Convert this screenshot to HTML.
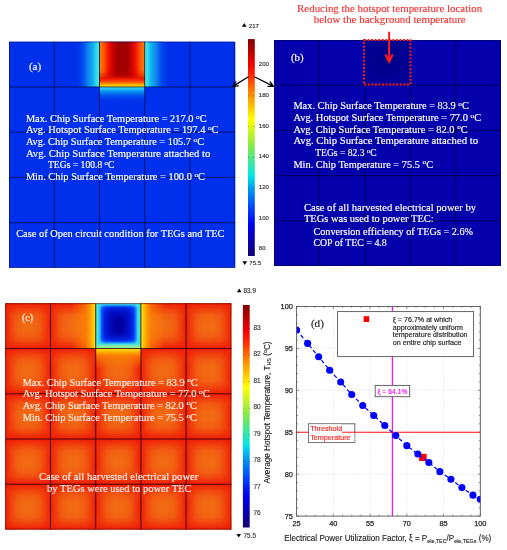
<!DOCTYPE html><html><head><meta charset="utf-8"><style>html,body{margin:0;padding:0;background:#fff;width:507px;height:550px;overflow:hidden}svg{display:block}</style></head><body>
<svg width="507" height="550" viewBox="0 0 507 550">
<defs>
<linearGradient id="jet" x1="0" y1="0" x2="0" y2="1"><stop offset="0" stop-color="#7f0000"/><stop offset="0.11" stop-color="#f00000"/><stop offset="0.16" stop-color="#ff2000"/><stop offset="0.235" stop-color="#ff7a00"/><stop offset="0.37" stop-color="#ffff00"/><stop offset="0.5" stop-color="#7fe850"/><stop offset="0.63" stop-color="#00e6e6"/><stop offset="0.7" stop-color="#0090f0"/><stop offset="0.78" stop-color="#0040ff"/><stop offset="0.86" stop-color="#0000f0"/><stop offset="1.0" stop-color="#140070"/></linearGradient>
<linearGradient id="hotA" x1="0" y1="0" x2="1" y2="0"><stop offset="0" stop-color="#ff8000"/><stop offset="0.08" stop-color="#ff6000"/><stop offset="0.14" stop-color="#ff3800"/><stop offset="0.2" stop-color="#f01400"/><stop offset="0.3" stop-color="#c80000"/><stop offset="0.4" stop-color="#a00000"/><stop offset="0.6" stop-color="#a00000"/><stop offset="0.7" stop-color="#c80000"/><stop offset="0.8" stop-color="#f01400"/><stop offset="0.86" stop-color="#ff3800"/><stop offset="0.92" stop-color="#ff6000"/><stop offset="1" stop-color="#ff8000"/></linearGradient>
<linearGradient id="hotAbot" x1="0" y1="0" x2="0" y2="1"><stop offset="0" stop-color="#c00000" stop-opacity="0"/><stop offset="0.35" stop-color="#c80000" stop-opacity="0.35"/><stop offset="0.55" stop-color="#f01800"/><stop offset="0.7" stop-color="#ff4800"/><stop offset="0.82" stop-color="#ff9000"/><stop offset="0.93" stop-color="#ffd000"/><stop offset="1" stop-color="#f0f000"/></linearGradient>
<linearGradient id="sideL" x1="0" y1="0" x2="1" y2="0"><stop offset="0" stop-color="#0030eb" stop-opacity="0"/><stop offset="0.3" stop-color="#0050f0" stop-opacity="0.55"/><stop offset="0.55" stop-color="#1080f0"/><stop offset="0.75" stop-color="#10b0f0"/><stop offset="0.9" stop-color="#30e0f0"/><stop offset="1" stop-color="#40f0e8"/></linearGradient>
<linearGradient id="sideR" x1="1" y1="0" x2="0" y2="0"><stop offset="0" stop-color="#0030eb" stop-opacity="0"/><stop offset="0.3" stop-color="#0050f0" stop-opacity="0.55"/><stop offset="0.55" stop-color="#1080f0"/><stop offset="0.75" stop-color="#10b0f0"/><stop offset="0.9" stop-color="#30e0f0"/><stop offset="1" stop-color="#40f0e8"/></linearGradient>
<linearGradient id="belowA" x1="0" y1="1" x2="0" y2="0"><stop offset="0" stop-color="#0030eb" stop-opacity="0"/><stop offset="0.45" stop-color="#0060f0" stop-opacity="0.6"/><stop offset="0.8" stop-color="#10a8f0"/><stop offset="1" stop-color="#40e0f0"/></linearGradient>
<linearGradient id="cH" x1="0" y1="0" x2="1" y2="0"><stop offset="0" stop-color="#ee1806" stop-opacity="0.95"/><stop offset="0.12" stop-color="#f02408" stop-opacity="0.62"/><stop offset="0.27" stop-color="#f0380c" stop-opacity="0.2"/><stop offset="0.42" stop-color="#f0380c" stop-opacity="0"/><stop offset="0.58" stop-color="#f0380c" stop-opacity="0"/><stop offset="0.73" stop-color="#f0380c" stop-opacity="0.2"/><stop offset="0.88" stop-color="#f02408" stop-opacity="0.62"/><stop offset="1" stop-color="#ee1806" stop-opacity="0.95"/></linearGradient>
<linearGradient id="cV" x1="0" y1="0" x2="0" y2="1"><stop offset="0" stop-color="#ee1806" stop-opacity="0.95"/><stop offset="0.12" stop-color="#f02408" stop-opacity="0.62"/><stop offset="0.27" stop-color="#f0380c" stop-opacity="0.2"/><stop offset="0.42" stop-color="#f0380c" stop-opacity="0"/><stop offset="0.58" stop-color="#f0380c" stop-opacity="0"/><stop offset="0.73" stop-color="#f0380c" stop-opacity="0.2"/><stop offset="0.88" stop-color="#f02408" stop-opacity="0.62"/><stop offset="1" stop-color="#ee1806" stop-opacity="0.95"/></linearGradient>
<radialGradient id="coldCore" cx="0.5" cy="0.5" r="0.6"><stop offset="0" stop-color="#0004b4"/><stop offset="0.6" stop-color="#000cc4"/><stop offset="1" stop-color="#0018d4"/></radialGradient>
<filter id="bl1" x="-20%" y="-20%" width="140%" height="140%"><feGaussianBlur stdDeviation="1.3"/></filter>
<filter id="bl2" x="-20%" y="-20%" width="140%" height="140%"><feGaussianBlur stdDeviation="2"/></filter>
<linearGradient id="ycL" x1="0" y1="0" x2="1" y2="0">
<stop offset="0" stop-color="#ff9000" stop-opacity="0"/><stop offset="0.6" stop-color="#ffa000" stop-opacity="0.55"/><stop offset="1" stop-color="#ffee00"/></linearGradient>
<linearGradient id="ycR" x1="1" y1="0" x2="0" y2="0">
<stop offset="0" stop-color="#ff9000" stop-opacity="0"/><stop offset="0.6" stop-color="#ffa000" stop-opacity="0.55"/><stop offset="1" stop-color="#ffee00"/></linearGradient>
<linearGradient id="ycB" x1="0" y1="1" x2="0" y2="0">
<stop offset="0" stop-color="#ff9000" stop-opacity="0"/><stop offset="0.6" stop-color="#ffa000" stop-opacity="0.55"/><stop offset="1" stop-color="#ffee00"/></linearGradient>
<radialGradient id="hotB" cx="0.5" cy="0.4" r="0.7">
<stop offset="0" stop-color="#000088"/><stop offset="1" stop-color="#00009c"/></radialGradient>
<clipPath id="plotclip"><rect x="296.5" y="306.5" width="184" height="209.6"/></clipPath>
</defs>
<text x="297.1" y="11.8" font-size="10" fill="#fa2e2e" font-family="'Liberation Serif', 'DejaVu Serif', serif" stroke="#fa2e2e" stroke-width="0.12" textLength="185" lengthAdjust="spacingAndGlyphs" >Reducing the hotspot temperature location</text>
<text x="313.7" y="22.9" font-size="10" fill="#fa2e2e" font-family="'Liberation Serif', 'DejaVu Serif', serif" stroke="#fa2e2e" stroke-width="0.12" textLength="152" lengthAdjust="spacingAndGlyphs" >below the background temperature</text>
<rect x="9" y="41.7" width="226.2" height="226.1" fill="#0030eb"/>
<rect x="73.24" y="41.7" width="26.24" height="45.239999999999995" fill="url(#sideL)"/>
<rect x="144.72" y="41.7" width="26.24" height="45.239999999999995" fill="url(#sideR)"/>
<rect x="99.48" y="86.94" width="45.24" height="17.19" fill="url(#belowA)"/>
<rect x="99.48" y="41.7" width="45.24" height="45.239999999999995" fill="url(#hotA)"/>
<rect x="99.48" y="68.84" width="45.24" height="18.10" fill="url(#hotAbot)"/>
<path d="M54.24 41.7V267.8M9 86.94H235.2M99.48 41.7V267.8M9 132.18H235.2M144.72 41.7V267.8M9 177.42H235.2M189.96 41.7V267.8M9 222.66H235.2" stroke="#000030" stroke-opacity="0.75" stroke-width="0.9" fill="none"/>
<rect x="9.4" y="42.1" width="225.39999999999998" height="225.29999999999998" fill="none" stroke="#000040" stroke-opacity="0.5" stroke-width="0.8"/>
<text x="28.9" y="69.5" font-size="11" fill="#fff" font-family="'Liberation Serif', 'DejaVu Serif', serif" stroke="#fff" stroke-width="0.15" textLength="12.3" lengthAdjust="spacingAndGlyphs" >(a)</text>
<text x="25.9" y="121.7" font-size="9.6" fill="#fff" font-family="'Liberation Serif', 'DejaVu Serif', serif" stroke="#fff" stroke-width="0.15" textLength="180.7" lengthAdjust="spacingAndGlyphs" >Max. Chip Surface Temperature = 217.0 <tspan font-size="70%" dy="-3.2">o</tspan><tspan dy="3.2">C</tspan></text>
<text x="25.9" y="133.3" font-size="9.6" fill="#fff" font-family="'Liberation Serif', 'DejaVu Serif', serif" stroke="#fff" stroke-width="0.15" textLength="192.7" lengthAdjust="spacingAndGlyphs" >Avg.  Hotspot Surface Temperature = 197.4 <tspan font-size="70%" dy="-3.2">o</tspan><tspan dy="3.2">C</tspan></text>
<text x="25.9" y="144.9" font-size="9.6" fill="#fff" font-family="'Liberation Serif', 'DejaVu Serif', serif" stroke="#fff" stroke-width="0.15" textLength="178.2" lengthAdjust="spacingAndGlyphs" >Avg.  Chip Surface Temperature = 105.7 <tspan font-size="70%" dy="-3.2">o</tspan><tspan dy="3.2">C</tspan></text>
<text x="25.9" y="156.6" font-size="9.6" fill="#fff" font-family="'Liberation Serif', 'DejaVu Serif', serif" stroke="#fff" stroke-width="0.15" textLength="184.4" lengthAdjust="spacingAndGlyphs" >Avg.  Chip Surface Temperature attached to</text>
<text x="48" y="168.2" font-size="9.6" fill="#fff" font-family="'Liberation Serif', 'DejaVu Serif', serif" stroke="#fff" stroke-width="0.15" >TEGs = 100.8 <tspan font-size="70%" dy="-3.2">o</tspan><tspan dy="3.2">C</tspan></text>
<text x="25.9" y="179.8" font-size="9.6" fill="#fff" font-family="'Liberation Serif', 'DejaVu Serif', serif" stroke="#fff" stroke-width="0.15" textLength="179.1" lengthAdjust="spacingAndGlyphs" >Min. Chip Surface Temperature = 100.0 <tspan font-size="70%" dy="-3.2">o</tspan><tspan dy="3.2">C</tspan></text>
<text x="16.2" y="236.6" font-size="10" fill="#fff" font-family="'Liberation Serif', 'DejaVu Serif', serif" stroke="#fff" stroke-width="0.15" textLength="208.3" lengthAdjust="spacingAndGlyphs" >Case of Open circuit condition for TEGs and TEC</text>
<rect x="248" y="39.1" width="6.8" height="216.9" fill="url(#jet)"/>
<path d="M248 65.16h1.2M254.8 65.16h-1.2" stroke="#000" stroke-opacity="0.5" stroke-width="0.6"/>
<text x="258.8" y="66.25865724381624" font-size="6.1" fill="#333" font-family="'Liberation Sans', Arial, sans-serif" stroke="#333" stroke-width="0.15" >200</text>
<path d="M248 95.82h1.2M254.8 95.82h-1.2" stroke="#000" stroke-opacity="0.5" stroke-width="0.6"/>
<text x="258.8" y="96.91590106007067" font-size="6.1" fill="#333" font-family="'Liberation Sans', Arial, sans-serif" stroke="#333" stroke-width="0.15" >180</text>
<path d="M248 126.47h1.2M254.8 126.47h-1.2" stroke="#000" stroke-opacity="0.5" stroke-width="0.6"/>
<text x="258.8" y="127.57314487632507" font-size="6.1" fill="#333" font-family="'Liberation Sans', Arial, sans-serif" stroke="#333" stroke-width="0.15" >160</text>
<path d="M248 157.13h1.2M254.8 157.13h-1.2" stroke="#000" stroke-opacity="0.5" stroke-width="0.6"/>
<text x="258.8" y="158.2303886925795" font-size="6.1" fill="#333" font-family="'Liberation Sans', Arial, sans-serif" stroke="#333" stroke-width="0.15" >140</text>
<path d="M248 187.79h1.2M254.8 187.79h-1.2" stroke="#000" stroke-opacity="0.5" stroke-width="0.6"/>
<text x="258.8" y="188.88763250883392" font-size="6.1" fill="#333" font-family="'Liberation Sans', Arial, sans-serif" stroke="#333" stroke-width="0.15" >120</text>
<path d="M248 218.44h1.2M254.8 218.44h-1.2" stroke="#000" stroke-opacity="0.5" stroke-width="0.6"/>
<text x="258.8" y="219.54487632508832" font-size="6.1" fill="#333" font-family="'Liberation Sans', Arial, sans-serif" stroke="#333" stroke-width="0.15" >100</text>
<path d="M248 249.10h1.2M254.8 249.10h-1.2" stroke="#000" stroke-opacity="0.5" stroke-width="0.6"/>
<text x="258.8" y="250.20212014134276" font-size="6.1" fill="#333" font-family="'Liberation Sans', Arial, sans-serif" stroke="#333" stroke-width="0.15" >80</text>
<path d="M241.9 26.8L244.25 23.1L246.6 26.8Z" fill="#000"/>
<text x="248.8" y="27.8" font-size="6.1" fill="#333" font-family="'Liberation Sans', Arial, sans-serif" stroke="#333" stroke-width="0.15" >217</text>
<path d="M242.4 261.2L244.75 264.9L247.1 261.2Z" fill="#000"/>
<text x="249.3" y="265.2" font-size="6.1" fill="#333" font-family="'Liberation Sans', Arial, sans-serif" stroke="#333" stroke-width="0.15" >75.5</text>
<g stroke="#000" stroke-width="1.3" fill="none" stroke-linecap="round" stroke-linejoin="round">
<path d="M248 77L233 86.4M233 86.4l5.4 -0.5M233 86.4l2.8 -4.6"/>
<path d="M254.8 77L273.5 86.4M273.5 86.4l-5.6 -0.1M273.5 86.4l-3.3 -4.4"/>
</g>
<rect x="274" y="40" width="227" height="226" fill="#0400ac"/>
<rect x="364.80" y="40" width="45.40" height="45.20" fill="url(#hotB)"/>
<path d="M319.40 40V266M274 85.20H501M364.80 40V266M274 130.40H501M410.20 40V266M274 175.60H501M455.60 40V266M274 220.80H501" stroke="#000030" stroke-opacity="0.7" stroke-width="0.9" fill="none"/>
<rect x="274.4" y="40.4" width="226.2" height="225.2" fill="none" stroke="#000030" stroke-opacity="0.5" stroke-width="0.8"/>
<rect x="364" y="40" width="46.4" height="44.4" fill="none" stroke="#ff1a1a" stroke-width="2" stroke-dasharray="2 1.55"/>
<path d="M389.1 31.8V60" stroke="#ff1a1a" stroke-width="2" fill="none"/>
<path d="M385.4 54.4L389.1 61.6L392.8 54.4" stroke="#ff1a1a" stroke-width="2.1" fill="none" stroke-linejoin="miter"/>
<text x="291" y="60.5" font-size="11" fill="#fff" font-family="'Liberation Serif', 'DejaVu Serif', serif" stroke="#fff" stroke-width="0.15" textLength="12.6" lengthAdjust="spacingAndGlyphs" >(b)</text>
<text x="293.4" y="109.3" font-size="9.6" fill="#fff" font-family="'Liberation Serif', 'DejaVu Serif', serif" stroke="#fff" stroke-width="0.15" textLength="175.5" lengthAdjust="spacingAndGlyphs" >Max. Chip Surface Temperature = 83.9 <tspan font-size="70%" dy="-3.2">o</tspan><tspan dy="3.2">C</tspan></text>
<text x="293.4" y="120.95" font-size="9.6" fill="#fff" font-family="'Liberation Serif', 'DejaVu Serif', serif" stroke="#fff" stroke-width="0.15" textLength="187.8" lengthAdjust="spacingAndGlyphs" >Avg.  Hotspot Surface Temperature = 77.0 <tspan font-size="70%" dy="-3.2">o</tspan><tspan dy="3.2">C</tspan></text>
<text x="293.4" y="132.6" font-size="9.6" fill="#fff" font-family="'Liberation Serif', 'DejaVu Serif', serif" stroke="#fff" stroke-width="0.15" textLength="174.4" lengthAdjust="spacingAndGlyphs" >Avg.  Chip Surface Temperature = 82.0 <tspan font-size="70%" dy="-3.2">o</tspan><tspan dy="3.2">C</tspan></text>
<text x="293.4" y="144.25" font-size="9.6" fill="#fff" font-family="'Liberation Serif', 'DejaVu Serif', serif" stroke="#fff" stroke-width="0.15" textLength="184.6" lengthAdjust="spacingAndGlyphs" >Avg.  Chip Surface Temperature attached to</text>
<text x="315.2" y="155.9" font-size="9.6" fill="#fff" font-family="'Liberation Serif', 'DejaVu Serif', serif" stroke="#fff" stroke-width="0.15" >TEGs = 82.3 <tspan font-size="70%" dy="-3.2">o</tspan><tspan dy="3.2">C</tspan></text>
<text x="293.4" y="167.6" font-size="9.6" fill="#fff" font-family="'Liberation Serif', 'DejaVu Serif', serif" stroke="#fff" stroke-width="0.15" textLength="139.7" lengthAdjust="spacingAndGlyphs" >Min. Chip Temperature = 75.5 <tspan font-size="70%" dy="-3.2">o</tspan><tspan dy="3.2">C</tspan></text>
<text x="303.9" y="210.7" font-size="9.6" fill="#fff" font-family="'Liberation Serif', 'DejaVu Serif', serif" stroke="#fff" stroke-width="0.15" textLength="172.1" lengthAdjust="spacingAndGlyphs" >Case of all harvested electrical power by</text>
<text x="303.9" y="222.3" font-size="9.6" fill="#fff" font-family="'Liberation Serif', 'DejaVu Serif', serif" stroke="#fff" stroke-width="0.15" textLength="129.8" lengthAdjust="spacingAndGlyphs" >TEGs was used to power TEC:</text>
<text x="313.4" y="234.7" font-size="9.6" fill="#fff" font-family="'Liberation Serif', 'DejaVu Serif', serif" stroke="#fff" stroke-width="0.15" textLength="159.6" lengthAdjust="spacingAndGlyphs" >Conversion efficiency of TEGs = 2.6%</text>
<text x="313.4" y="246.4" font-size="9.6" fill="#fff" font-family="'Liberation Serif', 'DejaVu Serif', serif" stroke="#fff" stroke-width="0.15" textLength="73.4" lengthAdjust="spacingAndGlyphs" >COP of TEC  = 4.8</text>
<rect x="5.3" y="303.3" width="226" height="226.2" fill="#f26a14"/>
<rect x="5.30" y="303.30" width="45.20" height="45.24" fill="url(#cH)"/>
<rect x="5.30" y="303.30" width="45.20" height="45.24" fill="url(#cV)"/>
<rect x="50.50" y="303.30" width="45.20" height="45.24" fill="url(#cH)"/>
<rect x="50.50" y="303.30" width="45.20" height="45.24" fill="url(#cV)"/>
<rect x="140.90" y="303.30" width="45.20" height="45.24" fill="url(#cH)"/>
<rect x="140.90" y="303.30" width="45.20" height="45.24" fill="url(#cV)"/>
<rect x="186.10" y="303.30" width="45.20" height="45.24" fill="url(#cH)"/>
<rect x="186.10" y="303.30" width="45.20" height="45.24" fill="url(#cV)"/>
<rect x="5.30" y="348.54" width="45.20" height="45.24" fill="url(#cH)"/>
<rect x="5.30" y="348.54" width="45.20" height="45.24" fill="url(#cV)"/>
<rect x="50.50" y="348.54" width="45.20" height="45.24" fill="url(#cH)"/>
<rect x="50.50" y="348.54" width="45.20" height="45.24" fill="url(#cV)"/>
<rect x="95.70" y="348.54" width="45.20" height="45.24" fill="url(#cH)"/>
<rect x="95.70" y="348.54" width="45.20" height="45.24" fill="url(#cV)"/>
<rect x="140.90" y="348.54" width="45.20" height="45.24" fill="url(#cH)"/>
<rect x="140.90" y="348.54" width="45.20" height="45.24" fill="url(#cV)"/>
<rect x="186.10" y="348.54" width="45.20" height="45.24" fill="url(#cH)"/>
<rect x="186.10" y="348.54" width="45.20" height="45.24" fill="url(#cV)"/>
<rect x="5.30" y="393.78" width="45.20" height="45.24" fill="url(#cH)"/>
<rect x="5.30" y="393.78" width="45.20" height="45.24" fill="url(#cV)"/>
<rect x="50.50" y="393.78" width="45.20" height="45.24" fill="url(#cH)"/>
<rect x="50.50" y="393.78" width="45.20" height="45.24" fill="url(#cV)"/>
<rect x="95.70" y="393.78" width="45.20" height="45.24" fill="url(#cH)"/>
<rect x="95.70" y="393.78" width="45.20" height="45.24" fill="url(#cV)"/>
<rect x="140.90" y="393.78" width="45.20" height="45.24" fill="url(#cH)"/>
<rect x="140.90" y="393.78" width="45.20" height="45.24" fill="url(#cV)"/>
<rect x="186.10" y="393.78" width="45.20" height="45.24" fill="url(#cH)"/>
<rect x="186.10" y="393.78" width="45.20" height="45.24" fill="url(#cV)"/>
<rect x="5.30" y="439.02" width="45.20" height="45.24" fill="url(#cH)"/>
<rect x="5.30" y="439.02" width="45.20" height="45.24" fill="url(#cV)"/>
<rect x="50.50" y="439.02" width="45.20" height="45.24" fill="url(#cH)"/>
<rect x="50.50" y="439.02" width="45.20" height="45.24" fill="url(#cV)"/>
<rect x="95.70" y="439.02" width="45.20" height="45.24" fill="url(#cH)"/>
<rect x="95.70" y="439.02" width="45.20" height="45.24" fill="url(#cV)"/>
<rect x="140.90" y="439.02" width="45.20" height="45.24" fill="url(#cH)"/>
<rect x="140.90" y="439.02" width="45.20" height="45.24" fill="url(#cV)"/>
<rect x="186.10" y="439.02" width="45.20" height="45.24" fill="url(#cH)"/>
<rect x="186.10" y="439.02" width="45.20" height="45.24" fill="url(#cV)"/>
<rect x="5.30" y="484.26" width="45.20" height="45.24" fill="url(#cH)"/>
<rect x="5.30" y="484.26" width="45.20" height="45.24" fill="url(#cV)"/>
<rect x="50.50" y="484.26" width="45.20" height="45.24" fill="url(#cH)"/>
<rect x="50.50" y="484.26" width="45.20" height="45.24" fill="url(#cV)"/>
<rect x="95.70" y="484.26" width="45.20" height="45.24" fill="url(#cH)"/>
<rect x="95.70" y="484.26" width="45.20" height="45.24" fill="url(#cV)"/>
<rect x="140.90" y="484.26" width="45.20" height="45.24" fill="url(#cH)"/>
<rect x="140.90" y="484.26" width="45.20" height="45.24" fill="url(#cV)"/>
<rect x="186.10" y="484.26" width="45.20" height="45.24" fill="url(#cH)"/>
<rect x="186.10" y="484.26" width="45.20" height="45.24" fill="url(#cV)"/>
<rect x="95.70" y="303.30" width="45.20" height="45.24" fill="#40e2ea"/>
<rect x="95.70" y="345.54" width="45.20" height="3" fill="#a8f080" filter="url(#bl1)"/>
<rect x="100.20" y="305.50" width="36.20" height="37.24" rx="3" fill="#0a70ff" filter="url(#bl1)"/>
<rect x="102.20" y="306.80" width="32.20" height="34.74" rx="4" fill="#0030f8" filter="url(#bl1)"/>
<rect x="105.20" y="308.80" width="26.20" height="30.24" rx="6" fill="#0008c0" filter="url(#bl2)"/>
<ellipse cx="118.30" cy="324.92" rx="7" ry="10" fill="#0000a0" filter="url(#bl2)"/>
<rect x="70.84" y="303.3" width="24.86" height="45.24" fill="url(#ycL)"/>
<rect x="140.90" y="303.3" width="24.86" height="45.24" fill="url(#ycR)"/>
<rect x="95.70" y="348.54" width="45.20" height="20.36" fill="url(#ycB)"/>
<path d="M50.50 303.3V529.5M5.3 348.54H231.3M95.70 303.3V529.5M5.3 393.78H231.3M140.90 303.3V529.5M5.3 439.02H231.3M186.10 303.3V529.5M5.3 484.26H231.3" stroke="#200000" stroke-opacity="0.8" stroke-width="1" fill="none"/>
<rect x="5.7" y="303.7" width="225.2" height="225.39999999999998" fill="none" stroke="#400000" stroke-opacity="0.6" stroke-width="0.8"/>
<text x="22.0" y="321.0" font-size="10.5" fill="#fcefe8" font-family="'Liberation Serif', 'DejaVu Serif', serif" stroke="#fcefe8" stroke-width="0.15" textLength="11.2" lengthAdjust="spacingAndGlyphs" >(c)</text>
<text x="22.7" y="385.6" font-size="9.6" fill="#fcefe8" font-family="'Liberation Serif', 'DejaVu Serif', serif" stroke="#fcefe8" stroke-width="0.15" textLength="175" lengthAdjust="spacingAndGlyphs" >Max. Chip Surface Temperature = 83.9 <tspan font-size="70%" dy="-3.2">o</tspan><tspan dy="3.2">C</tspan></text>
<text x="22.7" y="397.0" font-size="9.6" fill="#fcefe8" font-family="'Liberation Serif', 'DejaVu Serif', serif" stroke="#fcefe8" stroke-width="0.15" textLength="186.9" lengthAdjust="spacingAndGlyphs" >Avg.  Hotspot Surface Temperature = 77.0 <tspan font-size="70%" dy="-3.2">o</tspan><tspan dy="3.2">C</tspan></text>
<text x="22.7" y="408.5" font-size="9.6" fill="#fcefe8" font-family="'Liberation Serif', 'DejaVu Serif', serif" stroke="#fcefe8" stroke-width="0.15" textLength="174.3" lengthAdjust="spacingAndGlyphs" >Avg.  Chip Surface Temperature = 82.0 <tspan font-size="70%" dy="-3.2">o</tspan><tspan dy="3.2">C</tspan></text>
<text x="22.7" y="421.2" font-size="9.6" fill="#fcefe8" font-family="'Liberation Serif', 'DejaVu Serif', serif" stroke="#fcefe8" stroke-width="0.15" textLength="174.3" lengthAdjust="spacingAndGlyphs" >Min. Chip Surface Temperature = 75.5 <tspan font-size="70%" dy="-3.2">o</tspan><tspan dy="3.2">C</tspan></text>
<text x="38.9" y="479.8" font-size="9.6" fill="#fcefe8" font-family="'Liberation Serif', 'DejaVu Serif', serif" stroke="#fcefe8" stroke-width="0.15" textLength="159.4" lengthAdjust="spacingAndGlyphs" >Case of all harvested electrical power</text>
<text x="47.1" y="492.0" font-size="9.6" fill="#fcefe8" font-family="'Liberation Serif', 'DejaVu Serif', serif" stroke="#fcefe8" stroke-width="0.15" textLength="144.4" lengthAdjust="spacingAndGlyphs" >by TEGs were used to power TEC</text>
<rect x="242.9" y="305" width="6.8" height="222.5" fill="url(#jet)"/>
<path d="M242.9 328.84h1.2M249.70000000000002 328.84h-1.2" stroke="#000" stroke-opacity="0.5" stroke-width="0.6"/>
<text x="253.4" y="329.93928571428586" font-size="6.5" fill="#333" font-family="'Liberation Sans', Arial, sans-serif" stroke="#333" stroke-width="0.15" >83</text>
<path d="M242.9 355.33h1.2M249.70000000000002 355.33h-1.2" stroke="#000" stroke-opacity="0.5" stroke-width="0.6"/>
<text x="253.4" y="356.4273809523811" font-size="6.5" fill="#333" font-family="'Liberation Sans', Arial, sans-serif" stroke="#333" stroke-width="0.15" >82</text>
<path d="M242.9 381.82h1.2M249.70000000000002 381.82h-1.2" stroke="#000" stroke-opacity="0.5" stroke-width="0.6"/>
<text x="253.4" y="382.9154761904763" font-size="6.5" fill="#333" font-family="'Liberation Sans', Arial, sans-serif" stroke="#333" stroke-width="0.15" >81</text>
<path d="M242.9 408.30h1.2M249.70000000000002 408.30h-1.2" stroke="#000" stroke-opacity="0.5" stroke-width="0.6"/>
<text x="253.4" y="409.4035714285715" font-size="6.5" fill="#333" font-family="'Liberation Sans', Arial, sans-serif" stroke="#333" stroke-width="0.15" >80</text>
<path d="M242.9 434.79h1.2M249.70000000000002 434.79h-1.2" stroke="#000" stroke-opacity="0.5" stroke-width="0.6"/>
<text x="253.4" y="435.89166666666677" font-size="6.5" fill="#333" font-family="'Liberation Sans', Arial, sans-serif" stroke="#333" stroke-width="0.15" >79</text>
<path d="M242.9 461.28h1.2M249.70000000000002 461.28h-1.2" stroke="#000" stroke-opacity="0.5" stroke-width="0.6"/>
<text x="253.4" y="462.37976190476195" font-size="6.5" fill="#333" font-family="'Liberation Sans', Arial, sans-serif" stroke="#333" stroke-width="0.15" >78</text>
<path d="M242.9 487.77h1.2M249.70000000000002 487.77h-1.2" stroke="#000" stroke-opacity="0.5" stroke-width="0.6"/>
<text x="253.4" y="488.8678571428572" font-size="6.5" fill="#333" font-family="'Liberation Sans', Arial, sans-serif" stroke="#333" stroke-width="0.15" >77</text>
<path d="M242.9 514.26h1.2M249.70000000000002 514.26h-1.2" stroke="#000" stroke-opacity="0.5" stroke-width="0.6"/>
<text x="253.4" y="515.3559523809524" font-size="6.5" fill="#333" font-family="'Liberation Sans', Arial, sans-serif" stroke="#333" stroke-width="0.15" >76</text>
<path d="M237 292.2L239.25 288.6L241.5 292.2Z" fill="#000"/>
<text x="243.5" y="292.8" font-size="6.4" fill="#333" font-family="'Liberation Sans', Arial, sans-serif" stroke="#333" stroke-width="0.15" >83.9</text>
<path d="M236.5 533.9L238.75 537.5L241 533.9Z" fill="#000"/>
<text x="243.5" y="537.8" font-size="6.4" fill="#333" font-family="'Liberation Sans', Arial, sans-serif" stroke="#333" stroke-width="0.15" >75.5</text>
<rect x="296.6" y="306.5" width="183.70" height="209.60" fill="#fff"/>
<path d="M333.34 306.5V516.1M370.08 306.5V516.1M406.82 306.5V516.1M443.56 306.5V516.1M296.6 474.18H480.3M296.6 432.26H480.3M296.6 390.34H480.3M296.6 348.42H480.3" stroke="#cfcfcf" stroke-width="0.7" stroke-dasharray="0.8 1.6" fill="none"/>
<path d="M296.60 516.1v-2.5M296.60 306.5v2.5M305.79 516.1v-1.5M305.79 306.5v1.5M314.97 516.1v-1.5M314.97 306.5v1.5M324.16 516.1v-1.5M324.16 306.5v1.5M333.34 516.1v-2.5M333.34 306.5v2.5M342.53 516.1v-1.5M342.53 306.5v1.5M351.71 516.1v-1.5M351.71 306.5v1.5M360.89 516.1v-1.5M360.89 306.5v1.5M370.08 516.1v-2.5M370.08 306.5v2.5M379.26 516.1v-1.5M379.26 306.5v1.5M388.45 516.1v-1.5M388.45 306.5v1.5M397.63 516.1v-1.5M397.63 306.5v1.5M406.82 516.1v-2.5M406.82 306.5v2.5M416.00 516.1v-1.5M416.00 306.5v1.5M425.19 516.1v-1.5M425.19 306.5v1.5M434.38 516.1v-1.5M434.38 306.5v1.5M443.56 516.1v-2.5M443.56 306.5v2.5M452.75 516.1v-1.5M452.75 306.5v1.5M461.93 516.1v-1.5M461.93 306.5v1.5M471.12 516.1v-1.5M471.12 306.5v1.5M480.30 516.1v-2.5M480.30 306.5v2.5M296.6 516.10h2.5M480.3 516.10h-2.5M296.6 507.72h1.5M480.3 507.72h-1.5M296.6 499.33h1.5M480.3 499.33h-1.5M296.6 490.95h1.5M480.3 490.95h-1.5M296.6 482.56h1.5M480.3 482.56h-1.5M296.6 474.18h2.5M480.3 474.18h-2.5M296.6 465.80h1.5M480.3 465.80h-1.5M296.6 457.41h1.5M480.3 457.41h-1.5M296.6 449.03h1.5M480.3 449.03h-1.5M296.6 440.64h1.5M480.3 440.64h-1.5M296.6 432.26h2.5M480.3 432.26h-2.5M296.6 423.88h1.5M480.3 423.88h-1.5M296.6 415.49h1.5M480.3 415.49h-1.5M296.6 407.11h1.5M480.3 407.11h-1.5M296.6 398.72h1.5M480.3 398.72h-1.5M296.6 390.34h2.5M480.3 390.34h-2.5M296.6 381.96h1.5M480.3 381.96h-1.5M296.6 373.57h1.5M480.3 373.57h-1.5M296.6 365.19h1.5M480.3 365.19h-1.5M296.6 356.80h1.5M480.3 356.80h-1.5M296.6 348.42h2.5M480.3 348.42h-2.5M296.6 340.04h1.5M480.3 340.04h-1.5M296.6 331.65h1.5M480.3 331.65h-1.5M296.6 323.27h1.5M480.3 323.27h-1.5M296.6 314.88h1.5M480.3 314.88h-1.5M296.6 306.50h2.5M480.3 306.50h-2.5" stroke="#555" stroke-width="0.6" fill="none"/>
<path d="M392.37 306.5V516.1" stroke="#ff00ff" stroke-width="1.2"/>
<path d="M296.6 432.26H480.3" stroke="#ff1010" stroke-width="1.1"/>
<rect x="419.1" y="453.8" width="7.6" height="7.2" fill="#ff0000"/>
<g clip-path="url(#plotclip)"><polyline points="296.60,329.98 307.62,343.39 318.64,356.80 329.67,370.22 340.69,381.96 351.71,394.53 362.73,405.43 373.75,415.49 384.78,425.55 395.80,435.61 406.82,445.67 417.84,454.06 428.86,462.44 439.89,471.66 450.91,479.21 461.93,487.59 472.95,495.14 480.30,499.33" fill="none" stroke="#0000ff" stroke-width="1.2" stroke-dasharray="4 2.5"/>
<circle cx="296.60" cy="329.98" r="3.55" fill="#0000ff"/>
<circle cx="307.62" cy="343.39" r="3.55" fill="#0000ff"/>
<circle cx="318.64" cy="356.80" r="3.55" fill="#0000ff"/>
<circle cx="329.67" cy="370.22" r="3.55" fill="#0000ff"/>
<circle cx="340.69" cy="381.96" r="3.55" fill="#0000ff"/>
<circle cx="351.71" cy="394.53" r="3.55" fill="#0000ff"/>
<circle cx="362.73" cy="405.43" r="3.55" fill="#0000ff"/>
<circle cx="373.75" cy="415.49" r="3.55" fill="#0000ff"/>
<circle cx="384.78" cy="425.55" r="3.55" fill="#0000ff"/>
<circle cx="395.80" cy="435.61" r="3.55" fill="#0000ff"/>
<circle cx="406.82" cy="445.67" r="3.55" fill="#0000ff"/>
<circle cx="417.84" cy="454.06" r="3.55" fill="#0000ff"/>
<circle cx="428.86" cy="462.44" r="3.55" fill="#0000ff"/>
<circle cx="439.89" cy="471.66" r="3.55" fill="#0000ff"/>
<circle cx="450.91" cy="479.21" r="3.55" fill="#0000ff"/>
<circle cx="461.93" cy="487.59" r="3.55" fill="#0000ff"/>
<circle cx="472.95" cy="495.14" r="3.55" fill="#0000ff"/>
<circle cx="480.30" cy="499.33" r="3.55" fill="#0000ff"/>
</g>
<rect x="296.6" y="306.5" width="183.70" height="209.60" fill="none" stroke="#555" stroke-width="0.9"/>
<rect x="337.6" y="311.6" width="136" height="45" fill="#fff" stroke="#555" stroke-width="0.9"/>
<rect x="363.6" y="316.2" width="5.6" height="5.8" fill="#ff0000"/>
<text x="392.7" y="321.6" font-size="7.4" fill="#262626" font-family="'Liberation Sans', Arial, sans-serif" stroke="#262626" stroke-width="0.18" textLength="59.6" lengthAdjust="spacingAndGlyphs" >&#958; = 76.7% at which</text>
<text x="392.7" y="329.5" font-size="7.4" fill="#262626" font-family="'Liberation Sans', Arial, sans-serif" stroke="#262626" stroke-width="0.18" textLength="70.3" lengthAdjust="spacingAndGlyphs" >approximately uniform</text>
<text x="392.7" y="337.40000000000003" font-size="7.4" fill="#262626" font-family="'Liberation Sans', Arial, sans-serif" stroke="#262626" stroke-width="0.18" textLength="74.9" lengthAdjust="spacingAndGlyphs" >temperature distribution</text>
<text x="392.7" y="345.3" font-size="7.4" fill="#262626" font-family="'Liberation Sans', Arial, sans-serif" stroke="#262626" stroke-width="0.18" textLength="68.8" lengthAdjust="spacingAndGlyphs" >on entire chip surface</text>
<rect x="375.2" y="385.4" width="34.5" height="11.3" fill="#fff" stroke="#555" stroke-width="0.9"/>
<text x="392.45" y="394.1" font-size="7.6" fill="#ff00ff" font-family="'Liberation Sans', Arial, sans-serif" stroke="#ff00ff" stroke-width="0.15" textLength="30" lengthAdjust="spacingAndGlyphs" text-anchor="middle" >&#958; = 64.1%</text>
<rect x="308.4" y="423.8" width="46.4" height="18.8" fill="none" stroke="#555" stroke-width="0.9"/>
<rect x="308.9" y="424.3" width="32.8" height="8.8" fill="#fff"/>
<rect x="308.9" y="432.9" width="45.5" height="9.2" fill="#fff"/>
<text x="310.2" y="431.2" font-size="7.2" fill="#ff2020" font-family="'Liberation Sans', Arial, sans-serif" stroke="#ff2020" stroke-width="0.15" >Threshold</text>
<text x="310.2" y="440.2" font-size="7.2" fill="#ff2020" font-family="'Liberation Sans', Arial, sans-serif" stroke="#ff2020" stroke-width="0.15" >Temperature</text>
<text x="310.9" y="327.0" font-size="11" fill="#222" font-family="'Liberation Serif', 'DejaVu Serif', serif" stroke="#222" stroke-width="0.15" textLength="13" lengthAdjust="spacingAndGlyphs" >(d)</text>
<text x="292.9" y="518.7" font-size="7.4" fill="#2a2a2a" font-family="'Liberation Sans', Arial, sans-serif" stroke="#2a2a2a" stroke-width="0.25" text-anchor="end" >75</text>
<text x="292.9" y="476.78000000000003" font-size="7.4" fill="#2a2a2a" font-family="'Liberation Sans', Arial, sans-serif" stroke="#2a2a2a" stroke-width="0.25" text-anchor="end" >80</text>
<text x="292.9" y="434.86" font-size="7.4" fill="#2a2a2a" font-family="'Liberation Sans', Arial, sans-serif" stroke="#2a2a2a" stroke-width="0.25" text-anchor="end" >85</text>
<text x="292.9" y="392.94000000000005" font-size="7.4" fill="#2a2a2a" font-family="'Liberation Sans', Arial, sans-serif" stroke="#2a2a2a" stroke-width="0.25" text-anchor="end" >90</text>
<text x="292.9" y="351.02" font-size="7.4" fill="#2a2a2a" font-family="'Liberation Sans', Arial, sans-serif" stroke="#2a2a2a" stroke-width="0.25" text-anchor="end" >95</text>
<text x="292.9" y="309.1" font-size="7.4" fill="#2a2a2a" font-family="'Liberation Sans', Arial, sans-serif" stroke="#2a2a2a" stroke-width="0.25" text-anchor="end" >100</text>
<text x="296.6" y="525.6" font-size="7.4" fill="#2a2a2a" font-family="'Liberation Sans', Arial, sans-serif" stroke="#2a2a2a" stroke-width="0.25" text-anchor="middle" >25</text>
<text x="333.34000000000003" y="525.6" font-size="7.4" fill="#2a2a2a" font-family="'Liberation Sans', Arial, sans-serif" stroke="#2a2a2a" stroke-width="0.25" text-anchor="middle" >40</text>
<text x="370.08000000000004" y="525.6" font-size="7.4" fill="#2a2a2a" font-family="'Liberation Sans', Arial, sans-serif" stroke="#2a2a2a" stroke-width="0.25" text-anchor="middle" >55</text>
<text x="406.82" y="525.6" font-size="7.4" fill="#2a2a2a" font-family="'Liberation Sans', Arial, sans-serif" stroke="#2a2a2a" stroke-width="0.25" text-anchor="middle" >70</text>
<text x="443.56000000000006" y="525.6" font-size="7.4" fill="#2a2a2a" font-family="'Liberation Sans', Arial, sans-serif" stroke="#2a2a2a" stroke-width="0.25" text-anchor="middle" >85</text>
<text x="480.3" y="525.6" font-size="7.4" fill="#2a2a2a" font-family="'Liberation Sans', Arial, sans-serif" stroke="#2a2a2a" stroke-width="0.25" text-anchor="middle" >100</text>
<text x="284.3" y="541.1" font-size="8.5" fill="#1a1a1a" stroke="#1a1a1a" stroke-width="0.12" font-family="'Liberation Sans', Arial, sans-serif" textLength="207" lengthAdjust="spacingAndGlyphs">Electrical Power Utilization Factor, &#958; = P<tspan font-size="5.6" dy="1.8">ele,TEC</tspan><tspan dy="-1.8">/P</tspan><tspan font-size="5.6" dy="1.8">ele,TEGs</tspan><tspan dy="-1.8"> (%)</tspan></text>
<text transform="translate(269.8 483.5) rotate(-90)" x="0" y="0" font-size="8.2" fill="#1a1a1a" stroke="#1a1a1a" stroke-width="0.12" font-family="'Liberation Sans', Arial, sans-serif" textLength="142" lengthAdjust="spacingAndGlyphs">Average Hotspot Temperature, T<tspan font-size="5.4" dy="1.6">HS</tspan><tspan dy="-1.6"> (</tspan><tspan font-size="5.4" dy="-3">o</tspan><tspan dy="3">C)</tspan></text>
</svg></body></html>
